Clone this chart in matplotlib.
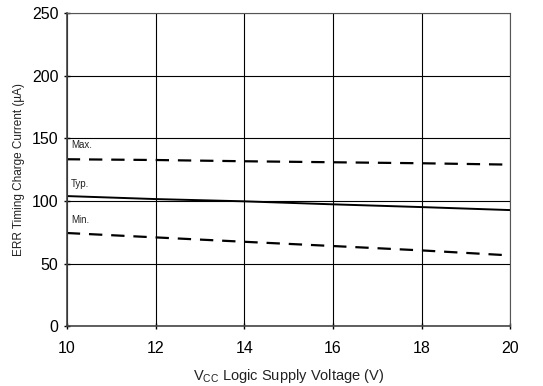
import matplotlib
matplotlib.use("Agg")
from matplotlib import pyplot as plt

plt.rcParams['font.family'] = ['Liberation Sans', 'DejaVu Sans']
plt.rcParams['mathtext.fontset'] = 'custom'
plt.rcParams['mathtext.rm'] = 'Liberation Sans'

vcc = [10, 12, 14, 16, 18, 20]
i_max = [133.3, 132.7, 131.7, 130.9, 130.1, 129.0]
i_typ = [103.9, 101.5, 99.7, 97.3, 95.1, 92.7]
i_min = [74.4, 70.9, 67.4, 64.0, 60.5, 56.5]

fig, ax = plt.subplots(figsize=(5.43, 3.86), dpi=100)
fig.subplots_adjust(left=0.123, right=0.94, top=0.966, bottom=0.155)

ax.plot(vcc, i_max, color='black', lw=1.6, dashes=(6, 4))
ax.plot(vcc, i_typ, color='black', lw=1.4)
ax.plot(vcc, i_min, color='black', lw=1.6, dashes=(6, 4))

ax.text(10.1, 142, 'Max.', fontsize=7, color='#222222')
ax.text(10.1, 111, 'Typ.', fontsize=7, color='#222222')
ax.text(10.1, 82, 'Min.', fontsize=7, color='#222222')

ax.set_xlim(10, 20)
ax.set_ylim(0, 250)
ax.set_xticks([10, 12, 14, 16, 18, 20])
ax.set_yticks([0, 50, 100, 150, 200, 250])
ax.grid(True, color='black', lw=0.8)
ax.tick_params(direction='inout', length=5, width=1, labelsize=11.5, colors='black')
ax.tick_params(axis='x', pad=8)

for s in ['top', 'right']:
    ax.spines[s].set_linewidth(0.8)
    ax.spines[s].set_color('#555555')
for s in ['left', 'bottom']:
    ax.spines[s].set_linewidth(1.2)
    ax.spines[s].set_color('#444444')

ax.set_xlabel(r'V$_{\mathrm{CC}}$ Logic Supply Voltage (V)', fontsize=10.5, color='#222222', labelpad=8)
ax.set_ylabel('ERR Timing Charge Current (µA)', fontsize=8.5, color='#222222', labelpad=5)

fig.savefig('out.png', dpi=100)
